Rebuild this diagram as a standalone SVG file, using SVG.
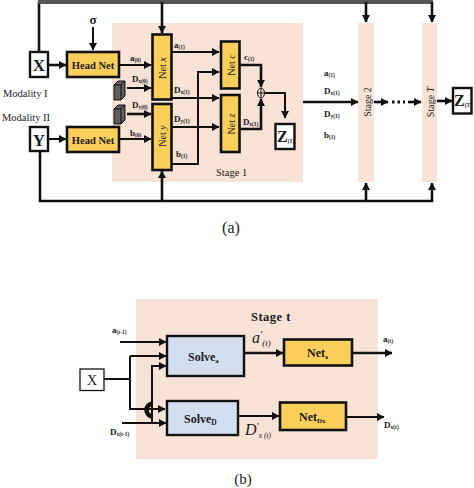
<svg xmlns="http://www.w3.org/2000/svg" width="474" height="488" viewBox="0 0 474 488">
<style>
text{font-family:"Liberation Serif",serif;fill:#1a1a1a}
.b{font-weight:bold}
.pe{fill:#f8e3d6}
.y{fill:#fbcf5b;stroke:#111;stroke-width:2.6}
.bl{fill:#d3dff0;stroke:#111;stroke-width:2.4}
.w{fill:#fff;stroke:#111;stroke-width:2.4}
.l{fill:none;stroke:#111;stroke-width:2}
.t{fill:none;stroke:#111;stroke-width:2.6}
.a{marker-end:url(#m)}
.s{font-size:9px;font-weight:bold}
.u{font-size:5.500px}
.n{font-size:10px}
.g{fill:#5f5f5f;stroke:#111;stroke-width:1}
</style>
<defs>
<marker id="m" markerUnits="userSpaceOnUse" markerWidth="9" markerHeight="9" refX="7" refY="4.500" orient="auto"><path d="M0,0.500L7.500,4.500L0,8.500z" fill="#111"/></marker>
</defs>
<rect class="pe" x="112" y="23" width="191" height="159"/>
<rect class="pe" x="358" y="23" width="16" height="159"/>
<rect class="pe" x="422" y="23" width="15" height="159"/>
<rect class="pe" x="136" y="299" width="242" height="160"/>
<g id="connectors">
<path class="t" d="M39,51V2"/>
<path d="M38,2H433" fill="none" stroke="#555" stroke-width="4"/>
<path class="t a" d="M162,2V33"/>
<path class="t a" d="M366,2V22"/>
<path class="t a" d="M432,2V22"/>
<path class="l a" d="M93,27V50"/>
<path class="t a" d="M49,65H66"/>
<path class="l a" d="M119,65H151"/>
<path class="l a" d="M127,88H151"/>
<path class="t a" d="M127,114H151"/>
<path class="l a" d="M119,139H151"/>
<path class="l a" d="M49,139H66"/>
<path class="l a" d="M172,52H219"/>
<path class="l a" d="M172,98H219"/>
<path class="l a" d="M172,127H219"/>
<path class="l a" d="M172,164H198V72H219"/>
<path class="t a" d="M240,65H261V87"/>
<path class="t a" d="M240,129H261V99"/>
<path class="l a" d="M264,93H285V118"/>
<path class="t a" d="M40,152V201H432V183"/>
<path class="t a" d="M162,201V171"/>
<path class="t a" d="M366,201V183"/>
<path class="t a" d="M303,102H358"/>
<path class="t a" d="M374,102H388"/>
<path class="t a" d="M408,102H421"/>
<path class="t a" d="M437,101H452"/>
<path d="M392,102H405" stroke="#111" stroke-width="3" stroke-dasharray="2.500 3" fill="none"/>
<path class="l a" d="M120,342H166"/>
<path class="l a" d="M130,356H166"/>
<path class="l" d="M104,379H130"/>
<path class="l a" d="M130,356V409H165"/>
<path class="l a" d="M152,423V366H166"/>
<path class="l a" d="M122,423H166"/>
<path d="M153,403.500A6.500,6.500 0 0 0 153,416.500" fill="none" stroke="#111" stroke-width="4.500"/>
<path class="t a" d="M245,353H283"/>
<path class="l a" d="M239,416H279"/>
<path class="t a" d="M352,353H392"/>
<path class="l a" d="M346,417H384"/>
</g>
<g id="node-x"><rect class="w" x="30" y="52" width="18" height="25"/><text x="39" y="71" text-anchor="middle" font-size="17" class="b">X</text></g>
<g id="node-y"><rect class="w" x="30" y="127" width="18" height="24"/><text x="39" y="146" text-anchor="middle" font-size="17" class="b">Y</text></g>
<text x="3" y="97" font-size="10.500" fill="#333">Modality I</text>
<text x="2" y="121" font-size="10.500" fill="#333">Modality II</text>
<text x="93" y="24" text-anchor="middle" font-size="13" class="b">σ</text>
<g id="head1"><rect class="y" x="67" y="52" width="52" height="25"/><text x="93" y="69" text-anchor="middle" font-size="10.500" class="b">Head Net</text></g>
<g id="head2"><rect class="y" x="67" y="127" width="52" height="25"/><text x="93" y="144" text-anchor="middle" font-size="10.500" class="b">Head Net</text></g>
<g id="cube1"><path class="g" d="M114,85l4,-4h7v15l-4,4h-7z"/><path d="M114,85h7v15M121,85l4,-4" fill="none" stroke="#111"/></g>
<g id="cube2"><path class="g" d="M114,109l4,-4h7v15l-4,4h-7z"/><path d="M114,109h7v15M121,109l4,-4" fill="none" stroke="#111"/></g>
<g id="net-x"><rect class="y" x="152.500" y="34.500" width="19" height="65"/><text class="n" transform="translate(166,68) rotate(-90)" text-anchor="middle">Net <tspan font-style="italic">x</tspan></text></g>
<g id="net-y"><rect class="y" x="152.500" y="104" width="19" height="66"/><text class="n" transform="translate(166,136) rotate(-90)" text-anchor="middle">Net <tspan font-style="italic">y</tspan></text></g>
<g id="net-c"><rect class="y" x="221" y="41.500" width="18.500" height="47"/><text class="n" transform="translate(235,65) rotate(-90)" text-anchor="middle">Net <tspan font-style="italic">c</tspan></text></g>
<g id="net-z"><rect class="y" x="221" y="95" width="18.500" height="57"/><text class="n" transform="translate(235,124) rotate(-90)" text-anchor="middle">Net <tspan font-style="italic">z</tspan></text></g>
<g id="oplus"><ellipse cx="261" cy="93" rx="3.500" ry="5" fill="#f8e3d6" stroke="#111"/><path d="M257.500,93h7M261,88v10" stroke="#111"/></g>
<g id="z1"><rect class="w" x="275.500" y="124" width="19" height="25"/><text x="277" y="142" font-size="16" class="b">Z<tspan class="u" dy="1">(1)</tspan></text></g>
<g id="zT"><rect class="w" x="453" y="88" width="18.500" height="25.500"/><text x="454" y="106" font-size="16" class="b">Z<tspan class="u" dy="1">(T)</tspan></text></g>
<text x="130" y="61" class="s">a<tspan class="u" dy="1">(0)</tspan></text>
<text x="132" y="82" class="s">D<tspan class="u" dy="1">x(0)</tspan></text>
<text x="132" y="108" class="s">D<tspan class="u" dy="1">y(0)</tspan></text>
<text x="130" y="136" class="s">b<tspan class="u" dy="1">(0)</tspan></text>
<text x="174" y="48" class="s">a<tspan class="u" dy="1">(1)</tspan></text>
<text x="174" y="93" class="s">D<tspan class="u" dy="1">x(1)</tspan></text>
<text x="174" y="122" class="s">D<tspan class="u" dy="1">y(1)</tspan></text>
<text x="176" y="157" class="s">b<tspan class="u" dy="1">(1)</tspan></text>
<text x="244" y="60" class="s">c<tspan class="u" dy="1">(1)</tspan></text>
<text x="243" y="125" class="s">D<tspan class="u" dy="1">z(1)</tspan></text>
<text x="216" y="176" font-size="10.500" fill="#333">Stage 1</text>
<text x="324" y="76" class="s">a<tspan class="u" dy="1">(1)</tspan></text>
<text x="324" y="94" class="s">D<tspan class="u" dy="1">x(1)</tspan></text>
<text x="324" y="117" class="s">D<tspan class="u" dy="1">y(1)</tspan></text>
<text x="324" y="138" class="s">b<tspan class="u" dy="1">(1)</tspan></text>
<text class="n" transform="translate(371,102) rotate(-90)" text-anchor="middle" fill="#333">Stage 2</text>
<text class="n" transform="translate(434,102) rotate(-90)" text-anchor="middle" fill="#333">Stage <tspan font-style="italic">T</tspan></text>
<text x="231" y="233" text-anchor="middle" font-size="16" fill="#333">(a)</text>
<g id="x2"><rect x="80" y="369" width="24" height="21.500" fill="#fff" stroke="#111" stroke-width="1.300"/><text x="92" y="385" text-anchor="middle" font-size="14">X</text></g>
<text x="112" y="333" class="s">a<tspan class="u" dy="1">(t-1)</tspan></text>
<text x="110" y="435" class="s">D<tspan class="u" dy="1">x(t-1)</tspan></text>
<g id="solve-a"><rect class="bl" x="167" y="336" width="77" height="40"/><text x="188" y="361" font-size="12" class="b">Solve<tspan font-size="7" dy="2">a</tspan></text></g>
<g id="solve-d"><rect class="bl" x="167" y="401" width="71" height="34"/><text x="184" y="423" font-size="12" class="b">Solve<tspan font-size="7.500" dy="2">D</tspan></text></g>
<g id="net-a"><rect class="y" x="284" y="339.500" width="68" height="26"/><text x="307" y="357" font-size="12" class="b">Net<tspan font-size="6" dy="2">a</tspan></text></g>
<g id="net-d"><rect class="y" x="280" y="402.500" width="66" height="27.500"/><text x="299" y="421" font-size="12" class="b">Net<tspan font-size="7" dy="2">Dx</tspan></text></g>
<text x="252" y="343" font-size="16" font-style="italic" fill="#333">a<tspan font-size="10" dy="-5">′</tspan><tspan font-size="9" dy="8">(t)</tspan></text>
<text x="245" y="435" font-size="16" font-style="italic" fill="#333">D<tspan font-size="10" dy="-5">′</tspan><tspan font-size="7.500" dy="8">x (t)</tspan></text>
<text x="251" y="321" font-size="12.500" class="b" letter-spacing="0.500">Stage t</text>
<text x="383" y="342" class="s">a<tspan class="u" dy="1">(t)</tspan></text>
<text x="384" y="428" class="s">D<tspan class="u" dy="1">x(t)</tspan></text>
<text x="243" y="484" text-anchor="middle" font-size="15" fill="#333">(b)</text>
</svg>
